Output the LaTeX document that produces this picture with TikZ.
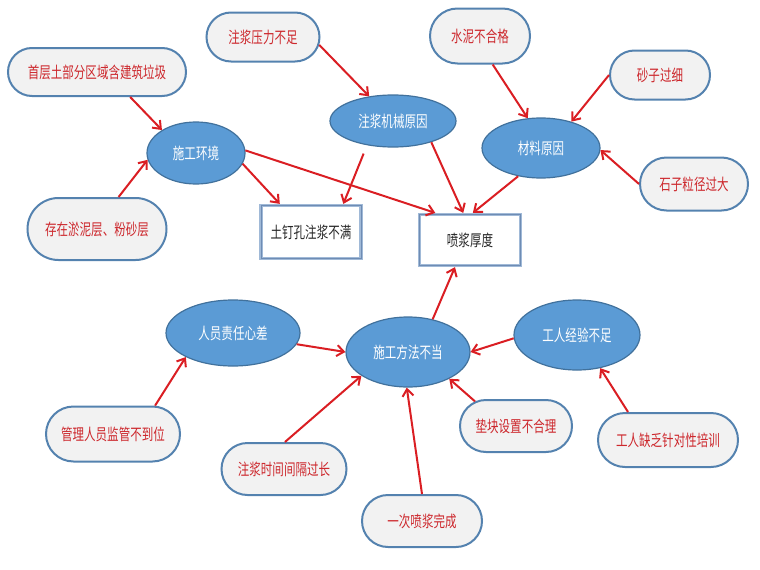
\documentclass[tikz,border=0pt]{standalone}
\usepackage{fontspec}
\newfontfamily\cjk[FakeStretch=0.72]{Noto Sans CJK SC}
\usetikzlibrary{shapes.geometric,shapes.misc,arrows.meta}
\definecolor{ellfill}{RGB}{91,155,213}
\definecolor{ellline}{RGB}{65,113,156}
\definecolor{boxfill}{RGB}{242,242,242}
\definecolor{boxline}{RGB}{84,130,175}
\definecolor{arrred}{RGB}{218,30,35}
\definecolor{txtred}{RGB}{205,40,45}
\definecolor{effline}{RGB}{160,185,215}
\definecolor{effinner}{RGB}{110,140,180}
\begin{document}
\begin{tikzpicture}[x=1pt,y=-1pt,
  font=\cjk\fontsize{16}{18}\selectfont,
  cause/.style={rounded rectangle, draw=boxline, line width=2pt, fill=boxfill, text=txtred, inner sep=0pt},
  mid/.style={ellipse, draw=ellline, line width=1.2pt, fill=ellfill, text=white, inner sep=0pt},
  effect/.style={rectangle, draw=effline, line width=3.2pt, fill=white, text=black!85, inner sep=0pt},
  effin/.style={draw=effinner, line width=0.7pt},
  arr/.style={draw=arrred, line width=2pt, -{Straight Barb[length=7pt,width=11pt]}}]
\useasboundingbox (0,0) rectangle (760,570);
% causes
\node[cause, minimum width=178pt, minimum height=48pt] (s1) at (97,72) {首层土部分区域含建筑垃圾};
\node[cause, minimum width=113pt, minimum height=49pt] (s2) at (263,37) {注浆压力不足};
\node[cause, minimum width=139pt, minimum height=62pt] (s3) at (97,229) {存在淤泥层、粉砂层};
\node[cause, minimum width=100pt, minimum height=55pt] (s4) at (480,36) {水泥不合格};
\node[cause, minimum width=100pt, minimum height=49pt] (s5) at (660,75) {砂子过细};
\node[cause, minimum width=108pt, minimum height=53pt] (s6) at (694,184) {石子粒径过大};
\node[cause, minimum width=134pt, minimum height=55pt] (b1) at (113,434) {管理人员监管不到位};
\node[cause, minimum width=125pt, minimum height=52pt] (b2) at (284,469) {注浆时间间隔过长};
\node[cause, minimum width=120pt, minimum height=52pt] (b3) at (422,521) {一次喷浆完成};
\node[cause, minimum width=112pt, minimum height=52pt] (b4) at (516,426) {垫块设置不合理};
\node[cause, minimum width=140pt, minimum height=54pt] (b5) at (668,440) {工人缺乏针对性培训};
% middle
\node[mid, minimum width=98pt, minimum height=62pt] (e1) at (196,153) {施工环境};
\node[mid, minimum width=126pt, minimum height=52pt] (e2) at (393,121) {注浆机械原因};
\node[mid, minimum width=118pt, minimum height=60pt] (e3) at (541,148) {材料原因};
\node[mid, minimum width=134pt, minimum height=66pt] (e4) at (233,333) {人员责任心差};
\node[mid, minimum width=124pt, minimum height=70pt] (e5) at (408,352) {施工方法不当};
\node[mid, minimum width=126pt, minimum height=70pt] (e6) at (577,335) {工人经验不足};
% effects
\node[effect, minimum width=100pt, minimum height=53pt] (r1) at (311,232) {土钉孔注浆不满};
\draw[effin] ([shift={(1.6pt,-1.6pt)}]r1.north west) rectangle ([shift={(-1.6pt,1.6pt)}]r1.south east);
\node[effect, minimum width=101pt, minimum height=51pt] (r2) at (470,240) {喷浆厚度};
\draw[effin] ([shift={(1.6pt,-1.6pt)}]r2.north west) rectangle ([shift={(-1.6pt,1.6pt)}]r2.south east);
% arrows
\draw[arr] (s1.-37) -- (e1.146);
\draw[arr] (s3.56) -- (e1.188);
\draw[arr] (e1.-13) -- (r1.138);
\draw[arr] (e1.3) -- (r2.142);
\draw[arr] (s2.-8) -- (e2.134);
\draw[arr, shorten <=9pt] (e2.223) -- (r1.41);
\draw[arr] (e2.-29) -- (r2.104);
\draw[arr] (e3.231) -- (r2.84);
\draw[arr] (s4.-66) -- (e3.114);
\draw[arr] (s5.180) -- (e3.41);
\draw[arr] (s6.180) -- (e3.-2);
\draw[arr] (e5.53) -- (r2.241);
\draw[arr] (e4.-10) -- (e5.180);
\draw[arr] (b1.34) -- (e4.207);
\draw[arr] (b2.88) -- (e5.207);
\draw[arr] (b3.90) -- (e5.268);
\draw[arr] (b4.149) -- (e5.-33);
\draw[arr] (e6.183) -- (e5.0);
\draw[arr] (b5.145) -- (e6.-55);
\end{tikzpicture}
\end{document}
